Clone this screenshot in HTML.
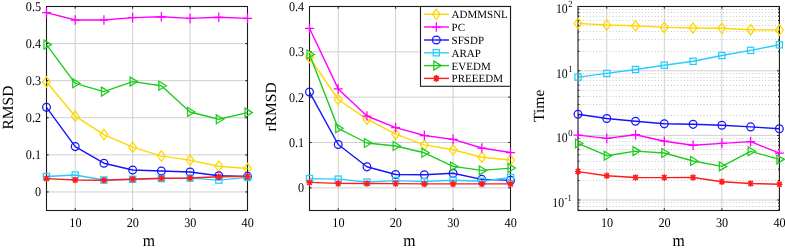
<!DOCTYPE html>
<html><head><meta charset="utf-8"><style>html,body{margin:0;padding:0;background:#fff;}svg{display:block;}</style></head><body>
<svg width="785" height="250" viewBox="0 0 785 250" font-family='"Liberation Serif", "Times New Roman", serif' fill="#000" text-rendering="geometricPrecision">
<rect width="785" height="250" fill="#fff"/>
<line x1="75.21" y1="6.5" x2="75.21" y2="210.5" stroke="#D0D0D0" stroke-width="1"/>
<line x1="132.64" y1="6.5" x2="132.64" y2="210.5" stroke="#D0D0D0" stroke-width="1"/>
<line x1="190.07" y1="6.5" x2="190.07" y2="210.5" stroke="#D0D0D0" stroke-width="1"/>
<line x1="46.5" y1="43.59" x2="247.5" y2="43.59" stroke="#D0D0D0" stroke-width="1"/>
<line x1="46.5" y1="80.68" x2="247.5" y2="80.68" stroke="#D0D0D0" stroke-width="1"/>
<line x1="46.5" y1="117.77" x2="247.5" y2="117.77" stroke="#D0D0D0" stroke-width="1"/>
<line x1="46.5" y1="154.86" x2="247.5" y2="154.86" stroke="#D0D0D0" stroke-width="1"/>
<line x1="46.5" y1="191.95" x2="247.5" y2="191.95" stroke="#D0D0D0" stroke-width="1"/>
<line x1="338.21" y1="6.5" x2="338.21" y2="210.5" stroke="#D0D0D0" stroke-width="1"/>
<line x1="395.64" y1="6.5" x2="395.64" y2="210.5" stroke="#D0D0D0" stroke-width="1"/>
<line x1="453.07" y1="6.5" x2="453.07" y2="210.5" stroke="#D0D0D0" stroke-width="1"/>
<line x1="309.5" y1="51.83" x2="510.5" y2="51.83" stroke="#D0D0D0" stroke-width="1"/>
<line x1="309.5" y1="97.17" x2="510.5" y2="97.17" stroke="#D0D0D0" stroke-width="1"/>
<line x1="309.5" y1="142.5" x2="510.5" y2="142.5" stroke="#D0D0D0" stroke-width="1"/>
<line x1="309.5" y1="187.83" x2="510.5" y2="187.83" stroke="#D0D0D0" stroke-width="1"/>
<line x1="606.77" y1="6.5" x2="606.77" y2="210.5" stroke="#D0D0D0" stroke-width="1"/>
<line x1="664.31" y1="6.5" x2="664.31" y2="210.5" stroke="#D0D0D0" stroke-width="1"/>
<line x1="721.86" y1="6.5" x2="721.86" y2="210.5" stroke="#D0D0D0" stroke-width="1"/>
<line x1="580.0" y1="206.5" x2="779.4" y2="206.5" stroke="#c6c6c6" stroke-width="1" stroke-dasharray="1 2.25"/>
<line x1="580.0" y1="202.5" x2="779.4" y2="202.5" stroke="#c6c6c6" stroke-width="1" stroke-dasharray="1 2.25"/>
<line x1="580.0" y1="180.5" x2="779.4" y2="180.5" stroke="#c6c6c6" stroke-width="1" stroke-dasharray="1 2.25"/>
<line x1="580.0" y1="169.5" x2="779.4" y2="169.5" stroke="#c6c6c6" stroke-width="1" stroke-dasharray="1 2.25"/>
<line x1="580.0" y1="161.5" x2="779.4" y2="161.5" stroke="#c6c6c6" stroke-width="1" stroke-dasharray="1 2.25"/>
<line x1="580.0" y1="154.5" x2="779.4" y2="154.5" stroke="#c6c6c6" stroke-width="1" stroke-dasharray="1 2.25"/>
<line x1="580.0" y1="149.5" x2="779.4" y2="149.5" stroke="#c6c6c6" stroke-width="1" stroke-dasharray="1 2.25"/>
<line x1="580.0" y1="145.5" x2="779.4" y2="145.5" stroke="#c6c6c6" stroke-width="1" stroke-dasharray="1 2.25"/>
<line x1="580.0" y1="141.5" x2="779.4" y2="141.5" stroke="#c6c6c6" stroke-width="1" stroke-dasharray="1 2.25"/>
<line x1="580.0" y1="138.5" x2="779.4" y2="138.5" stroke="#c6c6c6" stroke-width="1" stroke-dasharray="1 2.25"/>
<line x1="580.0" y1="115.5" x2="779.4" y2="115.5" stroke="#c6c6c6" stroke-width="1" stroke-dasharray="1 2.25"/>
<line x1="580.0" y1="104.5" x2="779.4" y2="104.5" stroke="#c6c6c6" stroke-width="1" stroke-dasharray="1 2.25"/>
<line x1="580.0" y1="96.5" x2="779.4" y2="96.5" stroke="#c6c6c6" stroke-width="1" stroke-dasharray="1 2.25"/>
<line x1="580.0" y1="90.5" x2="779.4" y2="90.5" stroke="#c6c6c6" stroke-width="1" stroke-dasharray="1 2.25"/>
<line x1="580.0" y1="85.5" x2="779.4" y2="85.5" stroke="#c6c6c6" stroke-width="1" stroke-dasharray="1 2.25"/>
<line x1="580.0" y1="80.5" x2="779.4" y2="80.5" stroke="#c6c6c6" stroke-width="1" stroke-dasharray="1 2.25"/>
<line x1="580.0" y1="77.5" x2="779.4" y2="77.5" stroke="#c6c6c6" stroke-width="1" stroke-dasharray="1 2.25"/>
<line x1="580.0" y1="73.5" x2="779.4" y2="73.5" stroke="#c6c6c6" stroke-width="1" stroke-dasharray="1 2.25"/>
<line x1="580.0" y1="51.5" x2="779.4" y2="51.5" stroke="#c6c6c6" stroke-width="1" stroke-dasharray="1 2.25"/>
<line x1="580.0" y1="39.5" x2="779.4" y2="39.5" stroke="#c6c6c6" stroke-width="1" stroke-dasharray="1 2.25"/>
<line x1="580.0" y1="31.5" x2="779.4" y2="31.5" stroke="#c6c6c6" stroke-width="1" stroke-dasharray="1 2.25"/>
<line x1="580.0" y1="25.5" x2="779.4" y2="25.5" stroke="#c6c6c6" stroke-width="1" stroke-dasharray="1 2.25"/>
<line x1="580.0" y1="20.5" x2="779.4" y2="20.5" stroke="#c6c6c6" stroke-width="1" stroke-dasharray="1 2.25"/>
<line x1="580.0" y1="16.5" x2="779.4" y2="16.5" stroke="#c6c6c6" stroke-width="1" stroke-dasharray="1 2.25"/>
<line x1="580.0" y1="12.5" x2="779.4" y2="12.5" stroke="#c6c6c6" stroke-width="1" stroke-dasharray="1 2.25"/>
<line x1="580.0" y1="9.5" x2="779.4" y2="9.5" stroke="#c6c6c6" stroke-width="1" stroke-dasharray="1 2.25"/>
<line x1="578.0" y1="70.8" x2="779.4" y2="70.8" stroke="#D0D0D0" stroke-width="1"/>
<line x1="578.0" y1="135.4" x2="779.4" y2="135.4" stroke="#D0D0D0" stroke-width="1"/>
<line x1="578.0" y1="200.0" x2="779.4" y2="200.0" stroke="#D0D0D0" stroke-width="1"/>
<rect x="46.5" y="6.5" width="201.0" height="204.0" fill="none" stroke="#1a1a1a" stroke-width="1.1"/>
<path d="M75.21 210.5v-2.2M75.21 6.5v2.2" stroke="#1a1a1a" stroke-width="1"/>
<path d="M132.64 210.5v-2.2M132.64 6.5v2.2" stroke="#1a1a1a" stroke-width="1"/>
<path d="M190.07 210.5v-2.2M190.07 6.5v2.2" stroke="#1a1a1a" stroke-width="1"/>
<path d="M247.5 210.5v-2.2M247.5 6.5v2.2" stroke="#1a1a1a" stroke-width="1"/>
<path d="M46.5 6.5h2.2M247.5 6.5h-2.2" stroke="#1a1a1a" stroke-width="1"/>
<path d="M46.5 43.59h2.2M247.5 43.59h-2.2" stroke="#1a1a1a" stroke-width="1"/>
<path d="M46.5 80.68h2.2M247.5 80.68h-2.2" stroke="#1a1a1a" stroke-width="1"/>
<path d="M46.5 117.77h2.2M247.5 117.77h-2.2" stroke="#1a1a1a" stroke-width="1"/>
<path d="M46.5 154.86h2.2M247.5 154.86h-2.2" stroke="#1a1a1a" stroke-width="1"/>
<path d="M46.5 191.95h2.2M247.5 191.95h-2.2" stroke="#1a1a1a" stroke-width="1"/>
<rect x="309.5" y="6.5" width="201.0" height="204.0" fill="none" stroke="#1a1a1a" stroke-width="1.1"/>
<path d="M338.21 210.5v-2.2M338.21 6.5v2.2" stroke="#1a1a1a" stroke-width="1"/>
<path d="M395.64 210.5v-2.2M395.64 6.5v2.2" stroke="#1a1a1a" stroke-width="1"/>
<path d="M453.07 210.5v-2.2M453.07 6.5v2.2" stroke="#1a1a1a" stroke-width="1"/>
<path d="M510.5 210.5v-2.2M510.5 6.5v2.2" stroke="#1a1a1a" stroke-width="1"/>
<path d="M309.5 6.5h2.2M510.5 6.5h-2.2" stroke="#1a1a1a" stroke-width="1"/>
<path d="M309.5 51.83h2.2M510.5 51.83h-2.2" stroke="#1a1a1a" stroke-width="1"/>
<path d="M309.5 97.17h2.2M510.5 97.17h-2.2" stroke="#1a1a1a" stroke-width="1"/>
<path d="M309.5 142.5h2.2M510.5 142.5h-2.2" stroke="#1a1a1a" stroke-width="1"/>
<path d="M309.5 187.83h2.2M510.5 187.83h-2.2" stroke="#1a1a1a" stroke-width="1"/>
<rect x="578.0" y="6.5" width="201.39999999999998" height="204.0" fill="none" stroke="#1a1a1a" stroke-width="1.1"/>
<path d="M606.77 210.5v-2.2M606.77 6.5v2.2" stroke="#1a1a1a" stroke-width="1"/>
<path d="M664.31 210.5v-2.2M664.31 6.5v2.2" stroke="#1a1a1a" stroke-width="1"/>
<path d="M721.86 210.5v-2.2M721.86 6.5v2.2" stroke="#1a1a1a" stroke-width="1"/>
<path d="M779.4 210.5v-2.2M779.4 6.5v2.2" stroke="#1a1a1a" stroke-width="1"/>
<path d="M578.0 210.01h1.4M779.4 210.01h-1.4" stroke="#1a1a1a" stroke-width="1"/>
<path d="M578.0 206.26h1.4M779.4 206.26h-1.4" stroke="#1a1a1a" stroke-width="1"/>
<path d="M578.0 202.96h1.4M779.4 202.96h-1.4" stroke="#1a1a1a" stroke-width="1"/>
<path d="M578.0 200.0h2.2M779.4 200.0h-2.2" stroke="#1a1a1a" stroke-width="1"/>
<path d="M578.0 180.55h1.4M779.4 180.55h-1.4" stroke="#1a1a1a" stroke-width="1"/>
<path d="M578.0 169.18h1.4M779.4 169.18h-1.4" stroke="#1a1a1a" stroke-width="1"/>
<path d="M578.0 161.11h1.4M779.4 161.11h-1.4" stroke="#1a1a1a" stroke-width="1"/>
<path d="M578.0 154.85h1.4M779.4 154.85h-1.4" stroke="#1a1a1a" stroke-width="1"/>
<path d="M578.0 149.73h1.4M779.4 149.73h-1.4" stroke="#1a1a1a" stroke-width="1"/>
<path d="M578.0 145.41h1.4M779.4 145.41h-1.4" stroke="#1a1a1a" stroke-width="1"/>
<path d="M578.0 141.66h1.4M779.4 141.66h-1.4" stroke="#1a1a1a" stroke-width="1"/>
<path d="M578.0 138.36h1.4M779.4 138.36h-1.4" stroke="#1a1a1a" stroke-width="1"/>
<path d="M578.0 135.4h2.2M779.4 135.4h-2.2" stroke="#1a1a1a" stroke-width="1"/>
<path d="M578.0 115.95h1.4M779.4 115.95h-1.4" stroke="#1a1a1a" stroke-width="1"/>
<path d="M578.0 104.58h1.4M779.4 104.58h-1.4" stroke="#1a1a1a" stroke-width="1"/>
<path d="M578.0 96.51h1.4M779.4 96.51h-1.4" stroke="#1a1a1a" stroke-width="1"/>
<path d="M578.0 90.25h1.4M779.4 90.25h-1.4" stroke="#1a1a1a" stroke-width="1"/>
<path d="M578.0 85.13h1.4M779.4 85.13h-1.4" stroke="#1a1a1a" stroke-width="1"/>
<path d="M578.0 80.81h1.4M779.4 80.81h-1.4" stroke="#1a1a1a" stroke-width="1"/>
<path d="M578.0 77.06h1.4M779.4 77.06h-1.4" stroke="#1a1a1a" stroke-width="1"/>
<path d="M578.0 73.76h1.4M779.4 73.76h-1.4" stroke="#1a1a1a" stroke-width="1"/>
<path d="M578.0 70.8h2.2M779.4 70.8h-2.2" stroke="#1a1a1a" stroke-width="1"/>
<path d="M578.0 51.35h1.4M779.4 51.35h-1.4" stroke="#1a1a1a" stroke-width="1"/>
<path d="M578.0 39.98h1.4M779.4 39.98h-1.4" stroke="#1a1a1a" stroke-width="1"/>
<path d="M578.0 31.91h1.4M779.4 31.91h-1.4" stroke="#1a1a1a" stroke-width="1"/>
<path d="M578.0 25.65h1.4M779.4 25.65h-1.4" stroke="#1a1a1a" stroke-width="1"/>
<path d="M578.0 20.53h1.4M779.4 20.53h-1.4" stroke="#1a1a1a" stroke-width="1"/>
<path d="M578.0 16.21h1.4M779.4 16.21h-1.4" stroke="#1a1a1a" stroke-width="1"/>
<path d="M578.0 12.46h1.4M779.4 12.46h-1.4" stroke="#1a1a1a" stroke-width="1"/>
<path d="M578.0 9.16h1.4M779.4 9.16h-1.4" stroke="#1a1a1a" stroke-width="1"/>
<polyline points="46.50,82.00 75.21,116.20 103.93,134.60 132.64,147.20 161.36,156.10 190.07,160.10 218.79,166.30 247.50,168.50" fill="none" stroke="#FFD700" stroke-width="1.4" stroke-linejoin="round"/>
<path d="M46.50 76.80L50.40 82.00L46.50 87.20L42.60 82.00Z" fill="none" stroke="#FFD700" stroke-width="1.25"/>
<path d="M75.21 111.00L79.11 116.20L75.21 121.40L71.31 116.20Z" fill="none" stroke="#FFD700" stroke-width="1.25"/>
<path d="M103.93 129.40L107.83 134.60L103.93 139.80L100.03 134.60Z" fill="none" stroke="#FFD700" stroke-width="1.25"/>
<path d="M132.64 142.00L136.54 147.20L132.64 152.40L128.74 147.20Z" fill="none" stroke="#FFD700" stroke-width="1.25"/>
<path d="M161.36 150.90L165.26 156.10L161.36 161.30L157.46 156.10Z" fill="none" stroke="#FFD700" stroke-width="1.25"/>
<path d="M190.07 154.90L193.97 160.10L190.07 165.30L186.17 160.10Z" fill="none" stroke="#FFD700" stroke-width="1.25"/>
<path d="M218.79 161.10L222.69 166.30L218.79 171.50L214.89 166.30Z" fill="none" stroke="#FFD700" stroke-width="1.25"/>
<path d="M247.50 163.30L251.40 168.50L247.50 173.70L243.60 168.50Z" fill="none" stroke="#FFD700" stroke-width="1.25"/>
<polyline points="46.50,12.60 75.21,20.00 103.93,20.00 132.64,17.60 161.36,16.80 190.07,18.40 218.79,17.30 247.50,18.40" fill="none" stroke="#FF00FF" stroke-width="1.4" stroke-linejoin="round"/>
<path d="M42.00 12.60H51.00M46.50 7.80V17.40" stroke="#FF00FF" stroke-width="1.25"/>
<path d="M70.71 20.00H79.71M75.21 15.20V24.80" stroke="#FF00FF" stroke-width="1.25"/>
<path d="M99.43 20.00H108.43M103.93 15.20V24.80" stroke="#FF00FF" stroke-width="1.25"/>
<path d="M128.14 17.60H137.14M132.64 12.80V22.40" stroke="#FF00FF" stroke-width="1.25"/>
<path d="M156.86 16.80H165.86M161.36 12.00V21.60" stroke="#FF00FF" stroke-width="1.25"/>
<path d="M185.57 18.40H194.57M190.07 13.60V23.20" stroke="#FF00FF" stroke-width="1.25"/>
<path d="M214.29 17.30H223.29M218.79 12.50V22.10" stroke="#FF00FF" stroke-width="1.25"/>
<path d="M243.00 18.40H252.00M247.50 13.60V23.20" stroke="#FF00FF" stroke-width="1.25"/>
<polyline points="46.50,107.30 75.21,146.60 103.93,163.20 132.64,170.00 161.36,171.00 190.07,172.00 218.79,175.80 247.50,176.40" fill="none" stroke="#1414FF" stroke-width="1.4" stroke-linejoin="round"/>
<ellipse cx="46.50" cy="107.30" rx="3.85" ry="3.95" fill="none" stroke="#1414FF" stroke-width="1.25"/>
<ellipse cx="75.21" cy="146.60" rx="3.85" ry="3.95" fill="none" stroke="#1414FF" stroke-width="1.25"/>
<ellipse cx="103.93" cy="163.20" rx="3.85" ry="3.95" fill="none" stroke="#1414FF" stroke-width="1.25"/>
<ellipse cx="132.64" cy="170.00" rx="3.85" ry="3.95" fill="none" stroke="#1414FF" stroke-width="1.25"/>
<ellipse cx="161.36" cy="171.00" rx="3.85" ry="3.95" fill="none" stroke="#1414FF" stroke-width="1.25"/>
<ellipse cx="190.07" cy="172.00" rx="3.85" ry="3.95" fill="none" stroke="#1414FF" stroke-width="1.25"/>
<ellipse cx="218.79" cy="175.80" rx="3.85" ry="3.95" fill="none" stroke="#1414FF" stroke-width="1.25"/>
<ellipse cx="247.50" cy="176.40" rx="3.85" ry="3.95" fill="none" stroke="#1414FF" stroke-width="1.25"/>
<polyline points="46.50,176.50 75.21,175.00 103.93,180.00 132.64,179.30 161.36,178.60 190.07,178.10 218.79,180.10 247.50,177.40" fill="none" stroke="#28CCFC" stroke-width="1.4" stroke-linejoin="round"/>
<rect x="43.40" y="173.40" width="6.20" height="6.20" fill="none" stroke="#28CCFC" stroke-width="1.25"/>
<rect x="72.11" y="171.90" width="6.20" height="6.20" fill="none" stroke="#28CCFC" stroke-width="1.25"/>
<rect x="100.83" y="176.90" width="6.20" height="6.20" fill="none" stroke="#28CCFC" stroke-width="1.25"/>
<rect x="129.54" y="176.20" width="6.20" height="6.20" fill="none" stroke="#28CCFC" stroke-width="1.25"/>
<rect x="158.26" y="175.50" width="6.20" height="6.20" fill="none" stroke="#28CCFC" stroke-width="1.25"/>
<rect x="186.97" y="175.00" width="6.20" height="6.20" fill="none" stroke="#28CCFC" stroke-width="1.25"/>
<rect x="215.69" y="177.00" width="6.20" height="6.20" fill="none" stroke="#28CCFC" stroke-width="1.25"/>
<rect x="244.40" y="174.30" width="6.20" height="6.20" fill="none" stroke="#28CCFC" stroke-width="1.25"/>
<polyline points="46.50,44.60 75.21,83.30 103.93,91.60 132.64,81.60 161.36,85.80 190.07,112.00 218.79,119.30 247.50,112.60" fill="none" stroke="#1ECC1E" stroke-width="1.4" stroke-linejoin="round"/>
<path d="M44.00 40.15L51.40 44.60L44.00 49.05Z" fill="none" stroke="#1ECC1E" stroke-width="1.25"/>
<path d="M72.71 78.85L80.11 83.30L72.71 87.75Z" fill="none" stroke="#1ECC1E" stroke-width="1.25"/>
<path d="M101.43 87.15L108.83 91.60L101.43 96.05Z" fill="none" stroke="#1ECC1E" stroke-width="1.25"/>
<path d="M130.14 77.15L137.54 81.60L130.14 86.05Z" fill="none" stroke="#1ECC1E" stroke-width="1.25"/>
<path d="M158.86 81.35L166.26 85.80L158.86 90.25Z" fill="none" stroke="#1ECC1E" stroke-width="1.25"/>
<path d="M187.57 107.55L194.97 112.00L187.57 116.45Z" fill="none" stroke="#1ECC1E" stroke-width="1.25"/>
<path d="M216.29 114.85L223.69 119.30L216.29 123.75Z" fill="none" stroke="#1ECC1E" stroke-width="1.25"/>
<path d="M245.00 108.15L252.40 112.60L245.00 117.05Z" fill="none" stroke="#1ECC1E" stroke-width="1.25"/>
<polyline points="46.50,178.60 75.21,180.00 103.93,180.30 132.64,179.30 161.36,178.30 190.07,178.00 218.79,176.70 247.50,176.40" fill="none" stroke="#FF1C1C" stroke-width="1.4" stroke-linejoin="round"/>
<path d="M43.50 178.60H49.50M46.50 175.30V181.90M44.20 176.10L48.80 181.10M44.20 181.10L48.80 176.10" stroke="#FF1C1C" stroke-width="1.45"/>
<path d="M72.21 180.00H78.21M75.21 176.70V183.30M72.91 177.50L77.51 182.50M72.91 182.50L77.51 177.50" stroke="#FF1C1C" stroke-width="1.45"/>
<path d="M100.93 180.30H106.93M103.93 177.00V183.60M101.63 177.80L106.23 182.80M101.63 182.80L106.23 177.80" stroke="#FF1C1C" stroke-width="1.45"/>
<path d="M129.64 179.30H135.64M132.64 176.00V182.60M130.34 176.80L134.94 181.80M130.34 181.80L134.94 176.80" stroke="#FF1C1C" stroke-width="1.45"/>
<path d="M158.36 178.30H164.36M161.36 175.00V181.60M159.06 175.80L163.66 180.80M159.06 180.80L163.66 175.80" stroke="#FF1C1C" stroke-width="1.45"/>
<path d="M187.07 178.00H193.07M190.07 174.70V181.30M187.77 175.50L192.37 180.50M187.77 180.50L192.37 175.50" stroke="#FF1C1C" stroke-width="1.45"/>
<path d="M215.79 176.70H221.79M218.79 173.40V180.00M216.49 174.20L221.09 179.20M216.49 179.20L221.09 174.20" stroke="#FF1C1C" stroke-width="1.45"/>
<path d="M244.50 176.40H250.50M247.50 173.10V179.70M245.20 173.90L249.80 178.90M245.20 178.90L249.80 173.90" stroke="#FF1C1C" stroke-width="1.45"/>
<polyline points="309.50,57.40 338.21,99.50 366.93,119.20 395.64,134.20 424.36,144.90 453.07,149.80 481.79,157.20 510.50,160.00" fill="none" stroke="#FFD700" stroke-width="1.4" stroke-linejoin="round"/>
<path d="M309.50 52.20L313.40 57.40L309.50 62.60L305.60 57.40Z" fill="none" stroke="#FFD700" stroke-width="1.25"/>
<path d="M338.21 94.30L342.11 99.50L338.21 104.70L334.31 99.50Z" fill="none" stroke="#FFD700" stroke-width="1.25"/>
<path d="M366.93 114.00L370.83 119.20L366.93 124.40L363.03 119.20Z" fill="none" stroke="#FFD700" stroke-width="1.25"/>
<path d="M395.64 129.00L399.54 134.20L395.64 139.40L391.74 134.20Z" fill="none" stroke="#FFD700" stroke-width="1.25"/>
<path d="M424.36 139.70L428.26 144.90L424.36 150.10L420.46 144.90Z" fill="none" stroke="#FFD700" stroke-width="1.25"/>
<path d="M453.07 144.60L456.97 149.80L453.07 155.00L449.17 149.80Z" fill="none" stroke="#FFD700" stroke-width="1.25"/>
<path d="M481.79 152.00L485.69 157.20L481.79 162.40L477.89 157.20Z" fill="none" stroke="#FFD700" stroke-width="1.25"/>
<path d="M510.50 154.80L514.40 160.00L510.50 165.20L506.60 160.00Z" fill="none" stroke="#FFD700" stroke-width="1.25"/>
<polyline points="309.50,28.30 338.21,88.90 366.93,116.00 395.64,127.60 424.36,135.50 453.07,139.40 481.79,148.00 510.50,152.50" fill="none" stroke="#FF00FF" stroke-width="1.4" stroke-linejoin="round"/>
<path d="M305.00 28.30H314.00M309.50 23.50V33.10" stroke="#FF00FF" stroke-width="1.25"/>
<path d="M333.71 88.90H342.71M338.21 84.10V93.70" stroke="#FF00FF" stroke-width="1.25"/>
<path d="M362.43 116.00H371.43M366.93 111.20V120.80" stroke="#FF00FF" stroke-width="1.25"/>
<path d="M391.14 127.60H400.14M395.64 122.80V132.40" stroke="#FF00FF" stroke-width="1.25"/>
<path d="M419.86 135.50H428.86M424.36 130.70V140.30" stroke="#FF00FF" stroke-width="1.25"/>
<path d="M448.57 139.40H457.57M453.07 134.60V144.20" stroke="#FF00FF" stroke-width="1.25"/>
<path d="M477.29 148.00H486.29M481.79 143.20V152.80" stroke="#FF00FF" stroke-width="1.25"/>
<path d="M506.00 152.50H515.00M510.50 147.70V157.30" stroke="#FF00FF" stroke-width="1.25"/>
<polyline points="309.50,92.10 338.21,144.50 366.93,166.80 395.64,174.50 424.36,174.80 453.07,173.30 481.79,179.40 510.50,180.40" fill="none" stroke="#1414FF" stroke-width="1.4" stroke-linejoin="round"/>
<ellipse cx="309.50" cy="92.10" rx="3.85" ry="3.95" fill="none" stroke="#1414FF" stroke-width="1.25"/>
<ellipse cx="338.21" cy="144.50" rx="3.85" ry="3.95" fill="none" stroke="#1414FF" stroke-width="1.25"/>
<ellipse cx="366.93" cy="166.80" rx="3.85" ry="3.95" fill="none" stroke="#1414FF" stroke-width="1.25"/>
<ellipse cx="395.64" cy="174.50" rx="3.85" ry="3.95" fill="none" stroke="#1414FF" stroke-width="1.25"/>
<ellipse cx="424.36" cy="174.80" rx="3.85" ry="3.95" fill="none" stroke="#1414FF" stroke-width="1.25"/>
<ellipse cx="453.07" cy="173.30" rx="3.85" ry="3.95" fill="none" stroke="#1414FF" stroke-width="1.25"/>
<ellipse cx="481.79" cy="179.40" rx="3.85" ry="3.95" fill="none" stroke="#1414FF" stroke-width="1.25"/>
<ellipse cx="510.50" cy="180.40" rx="3.85" ry="3.95" fill="none" stroke="#1414FF" stroke-width="1.25"/>
<polyline points="309.50,178.60 338.21,179.10 366.93,182.00 395.64,180.60 424.36,181.50 453.07,180.20 481.79,181.30 510.50,177.40" fill="none" stroke="#28CCFC" stroke-width="1.4" stroke-linejoin="round"/>
<rect x="306.40" y="175.50" width="6.20" height="6.20" fill="none" stroke="#28CCFC" stroke-width="1.25"/>
<rect x="335.11" y="176.00" width="6.20" height="6.20" fill="none" stroke="#28CCFC" stroke-width="1.25"/>
<rect x="363.83" y="178.90" width="6.20" height="6.20" fill="none" stroke="#28CCFC" stroke-width="1.25"/>
<rect x="392.54" y="177.50" width="6.20" height="6.20" fill="none" stroke="#28CCFC" stroke-width="1.25"/>
<rect x="421.26" y="178.40" width="6.20" height="6.20" fill="none" stroke="#28CCFC" stroke-width="1.25"/>
<rect x="449.97" y="177.10" width="6.20" height="6.20" fill="none" stroke="#28CCFC" stroke-width="1.25"/>
<rect x="478.69" y="178.20" width="6.20" height="6.20" fill="none" stroke="#28CCFC" stroke-width="1.25"/>
<rect x="507.40" y="174.30" width="6.20" height="6.20" fill="none" stroke="#28CCFC" stroke-width="1.25"/>
<polyline points="309.50,54.40 338.21,128.30 366.93,143.00 395.64,146.00 424.36,152.80 453.07,166.40 481.79,170.40 510.50,168.10" fill="none" stroke="#1ECC1E" stroke-width="1.4" stroke-linejoin="round"/>
<path d="M307.00 49.95L314.40 54.40L307.00 58.85Z" fill="none" stroke="#1ECC1E" stroke-width="1.25"/>
<path d="M335.71 123.85L343.11 128.30L335.71 132.75Z" fill="none" stroke="#1ECC1E" stroke-width="1.25"/>
<path d="M364.43 138.55L371.83 143.00L364.43 147.45Z" fill="none" stroke="#1ECC1E" stroke-width="1.25"/>
<path d="M393.14 141.55L400.54 146.00L393.14 150.45Z" fill="none" stroke="#1ECC1E" stroke-width="1.25"/>
<path d="M421.86 148.35L429.26 152.80L421.86 157.25Z" fill="none" stroke="#1ECC1E" stroke-width="1.25"/>
<path d="M450.57 161.95L457.97 166.40L450.57 170.85Z" fill="none" stroke="#1ECC1E" stroke-width="1.25"/>
<path d="M479.29 165.95L486.69 170.40L479.29 174.85Z" fill="none" stroke="#1ECC1E" stroke-width="1.25"/>
<path d="M508.00 163.65L515.40 168.10L508.00 172.55Z" fill="none" stroke="#1ECC1E" stroke-width="1.25"/>
<polyline points="309.50,182.40 338.21,183.40 366.93,183.50 395.64,183.60 424.36,183.90 453.07,183.90 481.79,183.90 510.50,183.90" fill="none" stroke="#FF1C1C" stroke-width="1.4" stroke-linejoin="round"/>
<path d="M306.50 182.40H312.50M309.50 179.10V185.70M307.20 179.90L311.80 184.90M307.20 184.90L311.80 179.90" stroke="#FF1C1C" stroke-width="1.45"/>
<path d="M335.21 183.40H341.21M338.21 180.10V186.70M335.91 180.90L340.51 185.90M335.91 185.90L340.51 180.90" stroke="#FF1C1C" stroke-width="1.45"/>
<path d="M363.93 183.50H369.93M366.93 180.20V186.80M364.63 181.00L369.23 186.00M364.63 186.00L369.23 181.00" stroke="#FF1C1C" stroke-width="1.45"/>
<path d="M392.64 183.60H398.64M395.64 180.30V186.90M393.34 181.10L397.94 186.10M393.34 186.10L397.94 181.10" stroke="#FF1C1C" stroke-width="1.45"/>
<path d="M421.36 183.90H427.36M424.36 180.60V187.20M422.06 181.40L426.66 186.40M422.06 186.40L426.66 181.40" stroke="#FF1C1C" stroke-width="1.45"/>
<path d="M450.07 183.90H456.07M453.07 180.60V187.20M450.77 181.40L455.37 186.40M450.77 186.40L455.37 181.40" stroke="#FF1C1C" stroke-width="1.45"/>
<path d="M478.79 183.90H484.79M481.79 180.60V187.20M479.49 181.40L484.09 186.40M479.49 186.40L484.09 181.40" stroke="#FF1C1C" stroke-width="1.45"/>
<path d="M507.50 183.90H513.50M510.50 180.60V187.20M508.20 181.40L512.80 186.40M508.20 186.40L512.80 181.40" stroke="#FF1C1C" stroke-width="1.45"/>
<polyline points="578.00,23.40 606.77,25.00 635.54,25.80 664.31,27.40 693.09,28.00 721.86,28.30 750.63,29.70 779.40,30.00" fill="none" stroke="#FFD700" stroke-width="1.4" stroke-linejoin="round"/>
<path d="M578.00 18.20L581.90 23.40L578.00 28.60L574.10 23.40Z" fill="none" stroke="#FFD700" stroke-width="1.25"/>
<path d="M606.77 19.80L610.67 25.00L606.77 30.20L602.87 25.00Z" fill="none" stroke="#FFD700" stroke-width="1.25"/>
<path d="M635.54 20.60L639.44 25.80L635.54 31.00L631.64 25.80Z" fill="none" stroke="#FFD700" stroke-width="1.25"/>
<path d="M664.31 22.20L668.21 27.40L664.31 32.60L660.41 27.40Z" fill="none" stroke="#FFD700" stroke-width="1.25"/>
<path d="M693.09 22.80L696.99 28.00L693.09 33.20L689.19 28.00Z" fill="none" stroke="#FFD700" stroke-width="1.25"/>
<path d="M721.86 23.10L725.76 28.30L721.86 33.50L717.96 28.30Z" fill="none" stroke="#FFD700" stroke-width="1.25"/>
<path d="M750.63 24.50L754.53 29.70L750.63 34.90L746.73 29.70Z" fill="none" stroke="#FFD700" stroke-width="1.25"/>
<path d="M779.40 24.80L783.30 30.00L779.40 35.20L775.50 30.00Z" fill="none" stroke="#FFD700" stroke-width="1.25"/>
<polyline points="578.00,135.10 606.77,138.40 635.54,134.70 664.31,141.20 693.09,145.30 721.86,143.40 750.63,141.60 779.40,153.10" fill="none" stroke="#FF00FF" stroke-width="1.4" stroke-linejoin="round"/>
<path d="M573.50 135.10H582.50M578.00 130.30V139.90" stroke="#FF00FF" stroke-width="1.25"/>
<path d="M602.27 138.40H611.27M606.77 133.60V143.20" stroke="#FF00FF" stroke-width="1.25"/>
<path d="M631.04 134.70H640.04M635.54 129.90V139.50" stroke="#FF00FF" stroke-width="1.25"/>
<path d="M659.81 141.20H668.81M664.31 136.40V146.00" stroke="#FF00FF" stroke-width="1.25"/>
<path d="M688.59 145.30H697.59M693.09 140.50V150.10" stroke="#FF00FF" stroke-width="1.25"/>
<path d="M717.36 143.40H726.36M721.86 138.60V148.20" stroke="#FF00FF" stroke-width="1.25"/>
<path d="M746.13 141.60H755.13M750.63 136.80V146.40" stroke="#FF00FF" stroke-width="1.25"/>
<path d="M774.90 153.10H783.90M779.40 148.30V157.90" stroke="#FF00FF" stroke-width="1.25"/>
<polyline points="578.00,114.20 606.77,118.50 635.54,121.20 664.31,123.80 693.09,124.30 721.86,125.20 750.63,126.90 779.40,128.70" fill="none" stroke="#1414FF" stroke-width="1.4" stroke-linejoin="round"/>
<ellipse cx="578.00" cy="114.20" rx="3.85" ry="3.95" fill="none" stroke="#1414FF" stroke-width="1.25"/>
<ellipse cx="606.77" cy="118.50" rx="3.85" ry="3.95" fill="none" stroke="#1414FF" stroke-width="1.25"/>
<ellipse cx="635.54" cy="121.20" rx="3.85" ry="3.95" fill="none" stroke="#1414FF" stroke-width="1.25"/>
<ellipse cx="664.31" cy="123.80" rx="3.85" ry="3.95" fill="none" stroke="#1414FF" stroke-width="1.25"/>
<ellipse cx="693.09" cy="124.30" rx="3.85" ry="3.95" fill="none" stroke="#1414FF" stroke-width="1.25"/>
<ellipse cx="721.86" cy="125.20" rx="3.85" ry="3.95" fill="none" stroke="#1414FF" stroke-width="1.25"/>
<ellipse cx="750.63" cy="126.90" rx="3.85" ry="3.95" fill="none" stroke="#1414FF" stroke-width="1.25"/>
<ellipse cx="779.40" cy="128.70" rx="3.85" ry="3.95" fill="none" stroke="#1414FF" stroke-width="1.25"/>
<polyline points="578.00,77.10 606.77,73.40 635.54,69.50 664.31,65.20 693.09,61.30 721.86,55.50 750.63,50.40 779.40,44.80" fill="none" stroke="#28CCFC" stroke-width="1.4" stroke-linejoin="round"/>
<rect x="574.90" y="74.00" width="6.20" height="6.20" fill="none" stroke="#28CCFC" stroke-width="1.25"/>
<rect x="603.67" y="70.30" width="6.20" height="6.20" fill="none" stroke="#28CCFC" stroke-width="1.25"/>
<rect x="632.44" y="66.40" width="6.20" height="6.20" fill="none" stroke="#28CCFC" stroke-width="1.25"/>
<rect x="661.21" y="62.10" width="6.20" height="6.20" fill="none" stroke="#28CCFC" stroke-width="1.25"/>
<rect x="689.99" y="58.20" width="6.20" height="6.20" fill="none" stroke="#28CCFC" stroke-width="1.25"/>
<rect x="718.76" y="52.40" width="6.20" height="6.20" fill="none" stroke="#28CCFC" stroke-width="1.25"/>
<rect x="747.53" y="47.30" width="6.20" height="6.20" fill="none" stroke="#28CCFC" stroke-width="1.25"/>
<rect x="776.30" y="41.70" width="6.20" height="6.20" fill="none" stroke="#28CCFC" stroke-width="1.25"/>
<polyline points="578.00,143.40 606.77,155.70 635.54,151.10 664.31,153.00 693.09,161.00 721.86,166.40 750.63,151.30 779.40,159.40" fill="none" stroke="#1ECC1E" stroke-width="1.4" stroke-linejoin="round"/>
<path d="M575.50 138.95L582.90 143.40L575.50 147.85Z" fill="none" stroke="#1ECC1E" stroke-width="1.25"/>
<path d="M604.27 151.25L611.67 155.70L604.27 160.15Z" fill="none" stroke="#1ECC1E" stroke-width="1.25"/>
<path d="M633.04 146.65L640.44 151.10L633.04 155.55Z" fill="none" stroke="#1ECC1E" stroke-width="1.25"/>
<path d="M661.81 148.55L669.21 153.00L661.81 157.45Z" fill="none" stroke="#1ECC1E" stroke-width="1.25"/>
<path d="M690.59 156.55L697.99 161.00L690.59 165.45Z" fill="none" stroke="#1ECC1E" stroke-width="1.25"/>
<path d="M719.36 161.95L726.76 166.40L719.36 170.85Z" fill="none" stroke="#1ECC1E" stroke-width="1.25"/>
<path d="M748.13 146.85L755.53 151.30L748.13 155.75Z" fill="none" stroke="#1ECC1E" stroke-width="1.25"/>
<path d="M776.90 154.95L784.30 159.40L776.90 163.85Z" fill="none" stroke="#1ECC1E" stroke-width="1.25"/>
<polyline points="578.00,171.60 606.77,175.80 635.54,177.50 664.31,177.60 693.09,177.50 721.86,181.80 750.63,183.50 779.40,184.20" fill="none" stroke="#FF1C1C" stroke-width="1.4" stroke-linejoin="round"/>
<path d="M575.00 171.60H581.00M578.00 168.30V174.90M575.70 169.10L580.30 174.10M575.70 174.10L580.30 169.10" stroke="#FF1C1C" stroke-width="1.45"/>
<path d="M603.77 175.80H609.77M606.77 172.50V179.10M604.47 173.30L609.07 178.30M604.47 178.30L609.07 173.30" stroke="#FF1C1C" stroke-width="1.45"/>
<path d="M632.54 177.50H638.54M635.54 174.20V180.80M633.24 175.00L637.84 180.00M633.24 180.00L637.84 175.00" stroke="#FF1C1C" stroke-width="1.45"/>
<path d="M661.31 177.60H667.31M664.31 174.30V180.90M662.01 175.10L666.61 180.10M662.01 180.10L666.61 175.10" stroke="#FF1C1C" stroke-width="1.45"/>
<path d="M690.09 177.50H696.09M693.09 174.20V180.80M690.79 175.00L695.39 180.00M690.79 180.00L695.39 175.00" stroke="#FF1C1C" stroke-width="1.45"/>
<path d="M718.86 181.80H724.86M721.86 178.50V185.10M719.56 179.30L724.16 184.30M719.56 184.30L724.16 179.30" stroke="#FF1C1C" stroke-width="1.45"/>
<path d="M747.63 183.50H753.63M750.63 180.20V186.80M748.33 181.00L752.93 186.00M748.33 186.00L752.93 181.00" stroke="#FF1C1C" stroke-width="1.45"/>
<path d="M776.40 184.20H782.40M779.40 180.90V187.50M777.10 181.70L781.70 186.70M777.10 186.70L781.70 181.70" stroke="#FF1C1C" stroke-width="1.45"/>
<text transform="translate(75.41 226.80) scale(0.96 1.05)" font-size="12.7" text-anchor="middle" >10</text>
<text transform="translate(132.84 226.80) scale(0.96 1.05)" font-size="12.7" text-anchor="middle" >20</text>
<text transform="translate(190.27 226.80) scale(0.96 1.05)" font-size="12.7" text-anchor="middle" >30</text>
<text transform="translate(247.70 226.80) scale(0.96 1.05)" font-size="12.7" text-anchor="middle" >40</text>
<text transform="translate(41.10 11.00) scale(0.96 1.05)" font-size="12.7" text-anchor="end" >0.5</text>
<text transform="translate(41.10 48.09) scale(0.96 1.05)" font-size="12.7" text-anchor="end" >0.4</text>
<text transform="translate(41.10 85.18) scale(0.96 1.05)" font-size="12.7" text-anchor="end" >0.3</text>
<text transform="translate(41.10 122.27) scale(0.96 1.05)" font-size="12.7" text-anchor="end" >0.2</text>
<text transform="translate(41.10 159.36) scale(0.96 1.05)" font-size="12.7" text-anchor="end" >0.1</text>
<text transform="translate(41.10 196.45) scale(0.96 1.05)" font-size="12.7" text-anchor="end" >0</text>
<text transform="translate(338.41 226.80) scale(0.96 1.05)" font-size="12.7" text-anchor="middle" >10</text>
<text transform="translate(395.84 226.80) scale(0.96 1.05)" font-size="12.7" text-anchor="middle" >20</text>
<text transform="translate(453.27 226.80) scale(0.96 1.05)" font-size="12.7" text-anchor="middle" >30</text>
<text transform="translate(510.70 226.80) scale(0.96 1.05)" font-size="12.7" text-anchor="middle" >40</text>
<text transform="translate(304.10 11.00) scale(0.96 1.05)" font-size="12.7" text-anchor="end" >0.4</text>
<text transform="translate(304.10 56.33) scale(0.96 1.05)" font-size="12.7" text-anchor="end" >0.3</text>
<text transform="translate(304.10 101.67) scale(0.96 1.05)" font-size="12.7" text-anchor="end" >0.2</text>
<text transform="translate(304.10 147.00) scale(0.96 1.05)" font-size="12.7" text-anchor="end" >0.1</text>
<text transform="translate(304.10 192.33) scale(0.96 1.05)" font-size="12.7" text-anchor="end" >0</text>
<text transform="translate(606.97 226.80) scale(0.96 1.05)" font-size="12.7" text-anchor="middle" >10</text>
<text transform="translate(664.51 226.80) scale(0.96 1.05)" font-size="12.7" text-anchor="middle" >20</text>
<text transform="translate(722.06 226.80) scale(0.96 1.05)" font-size="12.7" text-anchor="middle" >30</text>
<text transform="translate(779.60 226.80) scale(0.96 1.05)" font-size="12.7" text-anchor="middle" >40</text>
<text transform="translate(567.70 13.20) scale(0.93 1.05)" font-size="12.7" text-anchor="end" >10</text>
<text transform="translate(568.20 7.20) scale(0.95 1.05)" font-size="9" text-anchor="start" >2</text>
<text transform="translate(567.70 77.80) scale(0.93 1.05)" font-size="12.7" text-anchor="end" >10</text>
<text transform="translate(568.20 71.80) scale(0.95 1.05)" font-size="9" text-anchor="start" >1</text>
<text transform="translate(567.70 142.40) scale(0.93 1.05)" font-size="12.7" text-anchor="end" >10</text>
<text transform="translate(568.20 136.40) scale(0.95 1.05)" font-size="9" text-anchor="start" >0</text>
<text transform="translate(564.10 207.00) scale(0.93 1.05)" font-size="12.7" text-anchor="end" >10</text>
<text transform="translate(564.60 201.00) scale(0.95 1.05)" font-size="9" text-anchor="start" >-1</text>
<text transform="translate(148.90 245.60) scale(1.0 1.06)" font-size="15.8" text-anchor="middle" >m</text>
<text transform="translate(409.50 245.60) scale(1.0 1.06)" font-size="15.8" text-anchor="middle" >m</text>
<text transform="translate(678.70 245.60) scale(1.0 1.06)" font-size="15.8" text-anchor="middle" >m</text>
<text transform="translate(12.8 107.6) rotate(-90)" font-size="15.5" text-anchor="middle">RMSD</text>
<text transform="translate(276.2 106.9) rotate(-90)" font-size="15.5" text-anchor="middle">rRMSD</text>
<text transform="translate(543.9 105.8) rotate(-90)" font-size="15.5" text-anchor="middle">Time</text>
<rect x="420.5" y="6.5" width="90.0" height="79.8" fill="#fff" stroke="#1a1a1a" stroke-width="1.1"/>
<line x1="424" y1="14.3" x2="449" y2="14.3" stroke="#FFD700" stroke-width="1.4"/>
<path d="M436.30 9.10L440.20 14.30L436.30 19.50L432.40 14.30Z" fill="none" stroke="#FFD700" stroke-width="1.25"/>
<text x="451.60" y="18.20" font-size="11.0" text-anchor="start" >ADMMSNL</text>
<line x1="424" y1="27.0" x2="449" y2="27.0" stroke="#FF00FF" stroke-width="1.4"/>
<path d="M431.80 27.00H440.80M436.30 22.20V31.80" stroke="#FF00FF" stroke-width="1.25"/>
<text x="451.60" y="30.90" font-size="11.0" text-anchor="start" >PC</text>
<line x1="424" y1="40.0" x2="449" y2="40.0" stroke="#1414FF" stroke-width="1.4"/>
<ellipse cx="436.30" cy="40.00" rx="3.85" ry="3.95" fill="none" stroke="#1414FF" stroke-width="1.25"/>
<text x="451.60" y="43.90" font-size="11.0" text-anchor="start" >SFSDP</text>
<line x1="424" y1="52.8" x2="449" y2="52.8" stroke="#28CCFC" stroke-width="1.4"/>
<rect x="433.20" y="49.70" width="6.20" height="6.20" fill="none" stroke="#28CCFC" stroke-width="1.25"/>
<text x="451.60" y="56.70" font-size="11.0" text-anchor="start" >ARAP</text>
<line x1="424" y1="65.6" x2="449" y2="65.6" stroke="#1ECC1E" stroke-width="1.4"/>
<path d="M433.80 61.15L441.20 65.60L433.80 70.05Z" fill="none" stroke="#1ECC1E" stroke-width="1.25"/>
<text x="451.60" y="69.50" font-size="11.0" text-anchor="start" >EVEDM</text>
<line x1="424" y1="78.4" x2="449" y2="78.4" stroke="#FF1C1C" stroke-width="1.4"/>
<path d="M433.30 78.40H439.30M436.30 75.10V81.70M434.00 75.90L438.60 80.90M434.00 80.90L438.60 75.90" stroke="#FF1C1C" stroke-width="1.45"/>
<ellipse cx="436.3" cy="78.4" rx="2.3" ry="2.8" fill="#FF1C1C"/>
<text x="451.60" y="82.30" font-size="11.0" text-anchor="start" >PREEEDM</text>
</svg>
</body></html>
